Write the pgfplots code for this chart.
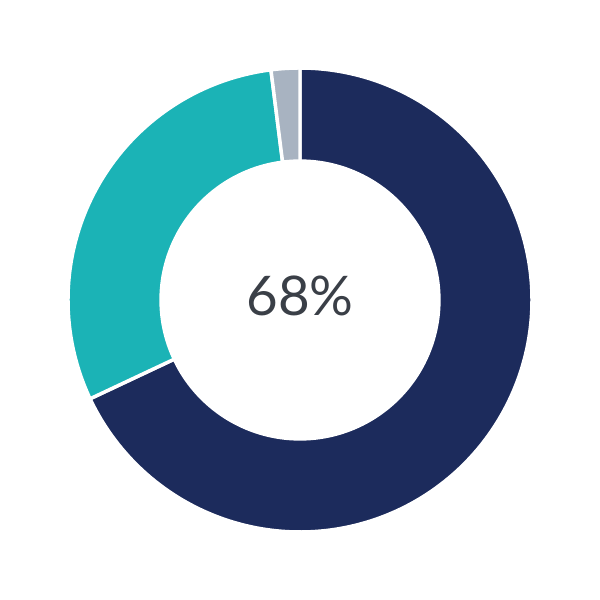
\documentclass[border=0pt]{standalone}
\usepackage{pgfplots}
\pgfplotsset{compat=1.18}
\usepackage{fontspec}
\setmainfont{Lato}
\definecolor{navy}{HTML}{1C2B5C}
\definecolor{teal}{HTML}{1BB3B6}
\definecolor{lgray}{HTML}{A8B3C1}
\definecolor{txt}{HTML}{3A3F47}
\begin{document}
\begin{tikzpicture}
\begin{axis}[
  width=450pt, height=450pt, scale only axis,
  xmin=-300, xmax=300, ymin=-300, ymax=300,
  hide axis, clip=false,
]
% invisible frame to keep the full 600x600 area
\addplot[draw=none, mark=none] coordinates {(-300,-300) (300,300)};
% values: 68, 30, 2 (percent), clockwise from top
\addplot[fill=navy, draw=white, line width=2.6pt, domain=-154.8:90, samples=200, variable=\t]
  ({232*cos(\t)},{232*sin(\t)}) -- (axis cs:0,0) -- cycle;
\addplot[fill=teal, draw=white, line width=2.6pt, domain=-262.8:-154.8, samples=120, variable=\t]
  ({232*cos(\t)},{232*sin(\t)}) -- (axis cs:0,0) -- cycle;
\addplot[fill=lgray, draw=white, line width=2.6pt, domain=-270:-262.8, samples=20, variable=\t]
  ({232*cos(\t)},{232*sin(\t)}) -- (axis cs:0,0) -- cycle;
\addplot[fill=white, draw=white, line width=1pt, domain=0:360, samples=200, variable=\t]
  ({140*cos(\t)},{140*sin(\t)});
\node[text=txt, font=\fontsize{41}{48}\selectfont] at (axis cs:0,4) {68\%};
\end{axis}
\end{tikzpicture}
\end{document}
